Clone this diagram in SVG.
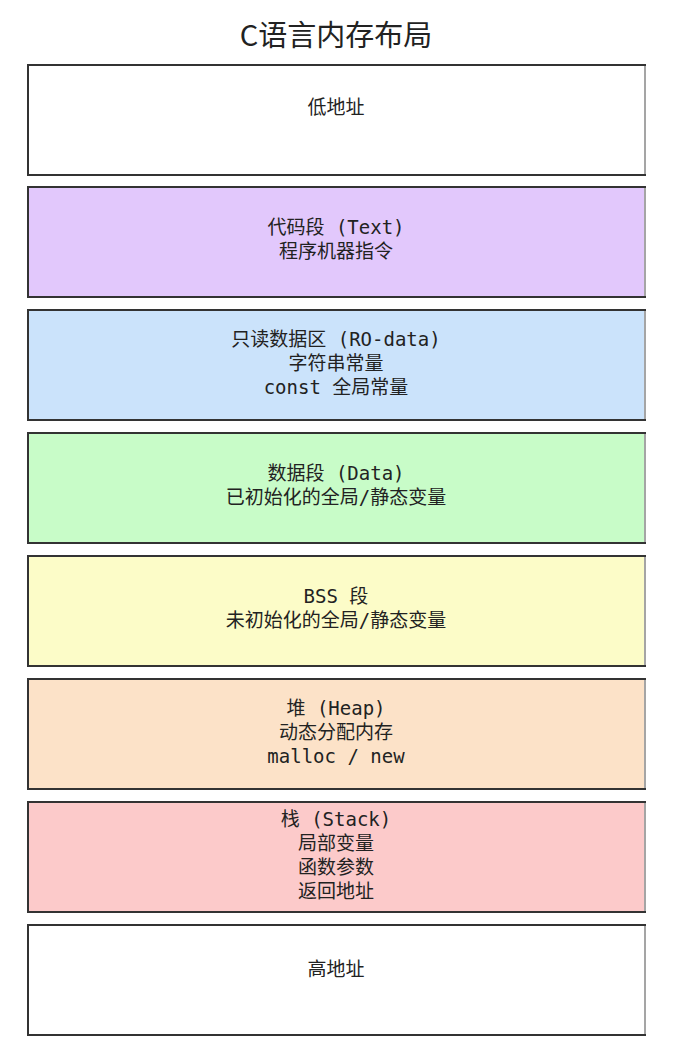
<svg xmlns="http://www.w3.org/2000/svg" width="675" height="1063" viewBox="0 0 675 1063">
<style>
.b{stroke:#333;stroke-width:2}
.r{stroke:#ccc;stroke-width:1.5}
text{font-family:"DejaVu Sans Mono","Noto Sans CJK SC",monospace;font-size:19px;fill:#222;text-anchor:middle}
.t{font-family:"Noto Sans CJK SC",sans-serif;font-size:29px}
</style>
<rect width="675" height="1063" fill="#fff"/>
<text class="t" x="336" y="46">C语言内存布局</text>
<g id="low"><rect class="b" x="28" y="65" width="617" height="110" fill="#fff"/><line class="r" x1="645" y1="66" x2="645" y2="174"/><text x="336" y="114">低地址</text></g>
<g id="text"><rect class="b" x="28" y="187" width="617" height="110" fill="#e2c8fc"/><line class="r" x1="645" y1="188" x2="645" y2="296"/><text x="336" y="234">代码段 (Text)</text><text x="336" y="258">程序机器指令</text></g>
<g id="rodata"><rect class="b" x="28" y="310" width="617" height="110" fill="#cbe3fb"/><line class="r" x1="645" y1="311" x2="645" y2="419"/><text x="336" y="346">只读数据区 (RO-data)</text><text x="336" y="370">字符串常量</text><text x="336" y="394">const 全局常量</text></g>
<g id="data"><rect class="b" x="28" y="433" width="617" height="110" fill="#c8fcc8"/><line class="r" x1="645" y1="434" x2="645" y2="542"/><text x="336" y="480">数据段 (Data)</text><text x="336" y="504">已初始化的全局/静态变量</text></g>
<g id="bss"><rect class="b" x="28" y="556" width="617" height="110" fill="#fcfcc8"/><line class="r" x1="645" y1="557" x2="645" y2="665"/><text x="336" y="603">BSS 段</text><text x="336" y="627">未初始化的全局/静态变量</text></g>
<g id="heap"><rect class="b" x="28" y="679" width="617" height="110" fill="#fce2c8"/><line class="r" x1="645" y1="680" x2="645" y2="788"/><text x="336" y="715">堆 (Heap)</text><text x="336" y="739">动态分配内存</text><text x="336" y="763">malloc / new</text></g>
<g id="stack"><rect class="b" x="28" y="802" width="617" height="110" fill="#fccaca"/><line class="r" x1="645" y1="803" x2="645" y2="911"/><text x="336" y="826">栈 (Stack)</text><text x="336" y="850">局部变量</text><text x="336" y="874">函数参数</text><text x="336" y="898">返回地址</text></g>
<g id="high"><rect class="b" x="28" y="925" width="617" height="110" fill="#fff"/><line class="r" x1="645" y1="926" x2="645" y2="1034"/><text x="336" y="976">高地址</text></g>
<g id="connectors"/>
</svg>
